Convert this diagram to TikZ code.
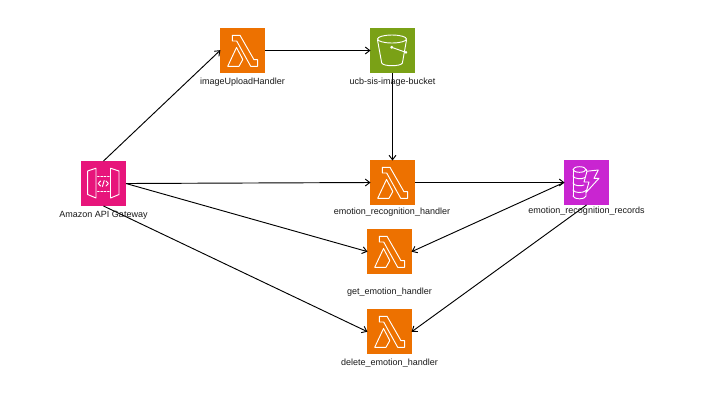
\documentclass[tikz,border=0pt]{standalone}
\usepackage{fontspec}
\setmainfont{Liberation Sans}
\usetikzlibrary{arrows.meta}
\definecolor{awsorange}{HTML}{ED7100}
\definecolor{awsgreen}{HTML}{7AA116}
\definecolor{awspink}{HTML}{E7157B}
\definecolor{awspurple}{HTML}{C925D1}
\tikzset{
  svc/.style={minimum width=33.75pt,minimum height=33.75pt,inner sep=0pt,outer sep=0pt,draw=none},
  lab/.style={inner sep=0pt,font=\fontsize{6.75pt}{8pt}\selectfont,text=black!90},
  link/.style={draw=black,line width=0.7pt,shorten >=-0.4pt,-{Straight Barb[length=3.4pt,width=5.2pt,line width=0.7pt]}},
  glyph/.style={draw=white,line width=0.7pt,fill=none,line join=round,line cap=round},
}
% icons are drawn in the 45 x 45 pixel frame of their box, from its north-west corner
\newcommand{\lambdaicon}[1]{%
  \begin{scope}[shift={(#1.north west)}]
    \draw[glyph] (12.3,7.3)--(20,7.3)--(34,31.7)--(37.7,31.7)--(37.7,38.3)--(30.7,38.3)--(16.7,13)--(12.3,13)--cycle;
    \draw[glyph] (7.7,38.3)--(16.5,19.5)--(22.8,31.5)--(19,38.3)--cycle;
  \end{scope}}
\newcommand{\bucketicon}[1]{%
  \begin{scope}[shift={(#1.north west)}]
    \draw[glyph] (22,11) ellipse[x radius=14.5,y radius=4];
    \draw[glyph] (7.5,12) -- (11.7,35) .. controls (13,38.6) and (31,38.6) .. (32.4,35) -- (36.5,12);
    \draw[glyph] (21.7,19.3) -- (36,24.4);
    \draw[glyph] (21.7,19.3) circle[radius=1];
    \draw[glyph] (36,24.4) circle[radius=0.9];
  \end{scope}}
\newcommand{\gatewayicon}[1]{%
  \begin{scope}[shift={(#1.north west)}]
    \draw[glyph] (6.7,10)--(15,7.2)--(15,37)--(6.7,33.5)--cycle;
    \draw[glyph] (29.5,7.2)--(38,10)--(38,33.5)--(29.5,37)--cycle;
    \draw[glyph,dash pattern=on 1.3pt off 1.2pt] (16.5,15.7)--(28.5,15.7);
    \draw[glyph,dash pattern=on 1.3pt off 1.2pt] (16.5,30.8)--(28.5,30.8);
    \draw[glyph] (19.6,20)--(17.2,22.5)--(19.6,25);
    \draw[glyph] (25,20)--(27.4,22.5)--(25,25);
    \draw[glyph] (23.2,19.5)--(21.4,25.5);
  \end{scope}}
\newcommand{\dynamoicon}[1]{%
  \begin{scope}[shift={(#1.north west)}]
    \draw[glyph] (15.5,9.5) ellipse[x radius=6.5,y radius=2.8];
    \draw[glyph] (9,9.5)--(9,36);
    \draw[glyph] (9,16) .. controls (10,19) and (18,19.5) .. (21,17.5);
    \draw[glyph] (9,23) .. controls (10,26) and (17,26.4) .. (20,25);
    \draw[glyph] (9,30) .. controls (10,33) and (19,33.5) .. (22,30.5);
    \draw[glyph] (9,36) .. controls (10,39.8) and (21,39.8) .. (22,36)--(22,31);
    \draw[glyph] (22,9.5)--(22,11);
    \draw[glyph] (23,11.2)--(34.3,10)--(30,18.3)--(35,18.3)--(22,32.5)--(25,22)--(20,22)--cycle;
  \end{scope}}
\begin{document}
\begin{tikzpicture}[x=0.75pt,y=-0.75pt]
\useasboundingbox[fill=white] (0,0) rectangle (720,405);
% services
\node[svc,fill=awspink]   (gw)     at (103.5,183.5) {};
\node[svc,fill=awsorange] (upload) at (242.5,50.5)  {};
\node[svc,fill=awsgreen]  (bucket) at (392.5,50.5)  {};
\node[svc,fill=awsorange] (recog)  at (392.5,182.5) {};
\node[svc,fill=awspurple] (dyn)    at (586.5,182.5) {};
\node[svc,fill=awsorange] (get)    at (389.5,251.5) {};
\node[svc,fill=awsorange] (del)    at (389.5,331.5) {};
\gatewayicon{gw}
\lambdaicon{upload}
\bucketicon{bucket}
\lambdaicon{recog}
\dynamoicon{dyn}
\lambdaicon{get}
\lambdaicon{del}
% connectors
\draw[link] (gw.north) -- (upload.west);
\draw[link] (upload.east) -- (bucket.west);
\draw[link] (bucket.south) -- (recog.north);
\draw[link] (gw.east) -- (recog.west);
\draw[link] (gw.east) -- (get.west);
\draw[link] (gw.south) -- (del.west);
\draw[link] (recog.east) -- (dyn.west);
\draw[link] (dyn.west) -- (get.east);
\draw[link] (dyn.south) -- (del.east);
% labels
\node[lab] (lgw)  at (103.5,215.5) {Amazon API Gateway};
\node[lab] (lup)  at (242.5,82.5)  {imageUploadHandler};
\node[lab] (lbu)  at (392.5,82.5)  {ucb-sis-image-bucket};
\node[lab] (lre)  at (392,212.5)   {emotion\_recognition\_handler};
\node[lab] (ldy)  at (586.5,211)   {emotion\_recognition\_records};
\node[lab] (lge)  at (389.5,292.5) {get\_emotion\_handler};
\node[lab] (lde)  at (389.5,363.5) {delete\_emotion\_handler};
\end{tikzpicture}
\end{document}
